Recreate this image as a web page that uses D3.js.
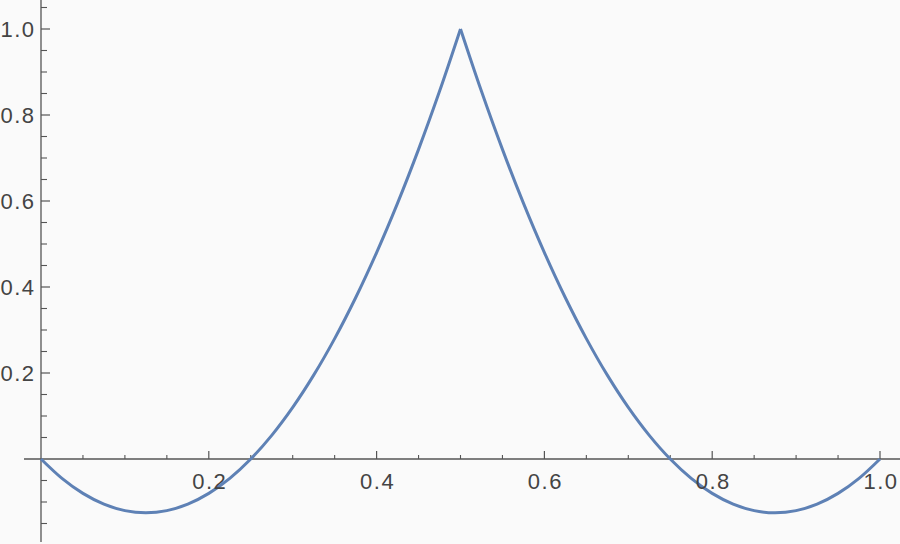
<!DOCTYPE html>
<html>
<head>
<meta charset="utf-8">
<script src="https://cdn.jsdelivr.net/npm/d3@7"></script>
<style>
  html, body { margin: 0; padding: 0; background: #fafafa; }
  svg { display: block; }
  .lbl { font-family: "Liberation Sans", Arial, sans-serif; font-size: 22px; fill: #444; letter-spacing: 1.5px; }
</style>
</head>
<body>
<script>
// curve values, x every 0.025
var xs = [0, 0.025, 0.05, 0.075, 0.1, 0.125, 0.15, 0.175, 0.2, 0.225, 0.25,
    0.275, 0.3, 0.325, 0.35, 0.375, 0.4, 0.425, 0.45, 0.475, 0.5,
    0.525, 0.55, 0.575, 0.6, 0.625, 0.65, 0.675, 0.7, 0.725, 0.75,
    0.775, 0.8, 0.825, 0.85, 0.875, 0.9, 0.925, 0.95, 0.975, 1];
var ys = [0, -0.045, -0.08, -0.105, -0.12, -0.125, -0.12, -0.105, -0.08, -0.045, 0,
    0.055, 0.12, 0.195, 0.28, 0.375, 0.48, 0.595, 0.72, 0.855, 1,
    0.855, 0.72, 0.595, 0.48, 0.375, 0.28, 0.195, 0.12, 0.055, 0,
    -0.045, -0.08, -0.105, -0.12, -0.125, -0.12, -0.105, -0.08, -0.045, 0];

var xMajor = [0.2, 0.4, 0.6, 0.8, 1.0];
var xMinor = [0.05, 0.1, 0.15, 0.25, 0.3, 0.35, 0.45, 0.5, 0.55, 0.65, 0.7, 0.75, 0.85, 0.9, 0.95];
var yMajor = [0.2, 0.4, 0.6, 0.8, 1.0];
var yMinor = [-0.15, -0.1, -0.05, 0.05, 0.1, 0.15, 0.25, 0.3, 0.35, 0.45, 0.5, 0.55,
    0.65, 0.7, 0.75, 0.85, 0.9, 0.95, 1.05];

var width = 900, height = 544;

var x = d3.scaleLinear().domain([0, 1]).range([41, 880]);
var y = d3.scaleLinear().domain([0, 1]).range([459, 29]);

var svg = d3.select('body').append('svg')
    .attr('width', width)
    .attr('height', height);

svg.append('rect')
    .attr('width', width)
    .attr('height', height)
    .attr('fill', '#fafafa');

var axisColor = '#555';

// x axis line
svg.append('line')
    .attr('x1', 24).attr('x2', width)
    .attr('y1', y(0)).attr('y2', y(0))
    .attr('stroke', axisColor).attr('stroke-width', 1.3);

// y axis line
svg.append('line')
    .attr('x1', x(0)).attr('x2', x(0))
    .attr('y1', 0).attr('y2', 542)
    .attr('stroke', axisColor).attr('stroke-width', 1.3);

// x ticks (pointing up)
svg.selectAll('line.xmaj').data(xMajor)
    .enter().append('line')
    .attr('class', 'xmaj')
    .attr('x1', function(d){return x(d)})
    .attr('x2', function(d){return x(d)})
    .attr('y1', y(0)).attr('y2', y(0) - 8)
    .attr('stroke', axisColor).attr('stroke-width', 1.2);

svg.selectAll('line.xmin').data(xMinor)
    .enter().append('line')
    .attr('class', 'xmin')
    .attr('x1', function(d){return x(d)})
    .attr('x2', function(d){return x(d)})
    .attr('y1', y(0)).attr('y2', y(0) - 4)
    .attr('stroke', axisColor).attr('stroke-width', 1.1);

// y ticks (pointing right)
svg.selectAll('line.ymaj').data(yMajor)
    .enter().append('line')
    .attr('class', 'ymaj')
    .attr('x1', x(0)).attr('x2', x(0) + 9)
    .attr('y1', function(d){return y(d)})
    .attr('y2', function(d){return y(d)})
    .attr('stroke', axisColor).attr('stroke-width', 1.2);

svg.selectAll('line.ymin').data(yMinor)
    .enter().append('line')
    .attr('class', 'ymin')
    .attr('x1', x(0)).attr('x2', x(0) + 6)
    .attr('y1', function(d){return y(d)})
    .attr('y2', function(d){return y(d)})
    .attr('stroke', axisColor).attr('stroke-width', 1.1);

// the curve, drawn as two smooth halves so the peak stays sharp
var points = xs.map(function(d, i){return [d, ys[i]]});
var line = d3.line()
    .x(function(d){return x(d[0])})
    .y(function(d){return y(d[1])})
    .curve(d3.curveCatmullRom);

var peak = ys.indexOf(d3.max(ys));
[points.slice(0, peak + 1), points.slice(peak)].forEach(function(part){
    svg.append('path')
        .attr('d', line(part))
        .attr('fill', 'none')
        .attr('stroke', '#5e81b5')
        .attr('stroke-width', 3)
        .attr('stroke-linejoin', 'miter');
});

// labels
svg.selectAll('text.xl').data(xMajor)
    .enter().append('text')
    .attr('class', 'lbl xl')
    .attr('x', function(d){return x(d) + 1})
    .attr('y', y(0) + 30)
    .attr('text-anchor', 'middle')
    .text(function(d){return d.toFixed(1)});

svg.selectAll('text.yl').data(yMajor)
    .enter().append('text')
    .attr('class', 'lbl yl')
    .attr('x', 35.5)
    .attr('y', function(d){return y(d) + 8})
    .attr('text-anchor', 'end')
    .text(function(d){return d.toFixed(1)});
</script>
</body>
</html>
